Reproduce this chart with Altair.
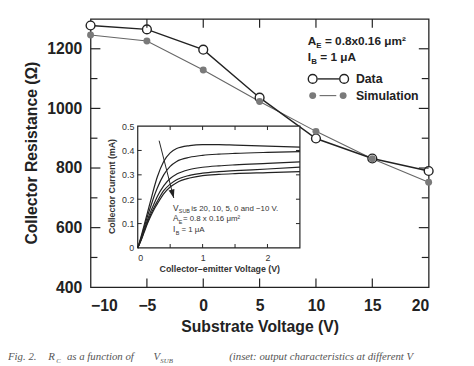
import altair as alt
import pandas as pd

# ---- main data ----
vsub = [-10, -5, 0, 5, 10, 15, 20]
r_data = [1278, 1265, 1197, 1036, 899, 832, 790]
r_sim = [1246, 1226, 1129, 1023, 923, 831, 752]

x_ticks = [-5, 0, 5, 10, 15]
y_major = [600, 800, 1000, 1200]
y_minor = [500, 700, 900, 1100]

# ---- inset data ----
vce = [0, 0.05, 0.1, 0.15, 0.2, 0.25, 0.3, 0.4, 0.5, 0.6, 0.8, 1.0, 1.25, 1.5, 2.0, 2.5]
ic_20 = [0, 0.045, 0.095, 0.145, 0.195, 0.245, 0.29, 0.355, 0.39, 0.408, 0.42, 0.424, 0.424, 0.422, 0.418, 0.414]
ic_10 = [0, 0.04, 0.085, 0.13, 0.17, 0.21, 0.245, 0.30, 0.335, 0.355, 0.372, 0.38, 0.385, 0.388, 0.392, 0.395]
ic_5 = [0, 0.035, 0.075, 0.115, 0.15, 0.18, 0.21, 0.255, 0.285, 0.303, 0.322, 0.331, 0.337, 0.341, 0.347, 0.353]
ic_0 = [0, 0.032, 0.07, 0.105, 0.138, 0.165, 0.19, 0.235, 0.262, 0.28, 0.298, 0.307, 0.313, 0.317, 0.324, 0.332]
ic_m10 = [0, 0.03, 0.065, 0.1, 0.13, 0.157, 0.18, 0.222, 0.25, 0.268, 0.287, 0.297, 0.302, 0.305, 0.309, 0.313]
inset_x_ticks = [0.5, 1.0, 1.5, 2.0]
inset_y_ticks = [0.1, 0.2, 0.3, 0.4]
arrow_x = [0.33, 0.555]
arrow_y = [0.44, 0.205]

W, H = 344, 273
FONT = "Liberation Sans"
INK = "#222"

main_df = pd.DataFrame({"v": vsub, "rd": r_data, "rs": r_sim})
curves = []
for name, arr in [("20", ic_20), ("10", ic_10), ("5", ic_5), ("0", ic_0), ("-10", ic_m10)]:
    for a, b in zip(vce, arr):
        curves.append({"x": a, "y": b, "vs": name})
inset_df = pd.DataFrame(curves)

xs = alt.Scale(domain=[-10, 20], nice=False)
ys = alt.Scale(domain=[400, 1300], nice=False)

xa = alt.Axis(values=[-10, -5, 0, 5, 10, 15, 20], format="d", ticks=False, domain=False, grid=False,
              labelFont=FONT, labelFontSize=16, labelFontWeight="bold", labelColor=INK,
              labelPadding=11, title="Substrate Voltage (V)", titleFont=FONT, titleFontSize=16,
              titleFontWeight="bold", titleColor=INK, titleX=172, titleY=40,
              titleBaseline="middle", titleAlign="center")
ya = alt.Axis(values=[400, 600, 800, 1000, 1200], format="d", ticks=False, domain=False, grid=False,
              labelFont=FONT, labelFontSize=16, labelFontWeight="bold", labelColor=INK,
              labelPadding=9, title="Collector Resistance (Ω)", titleFont=FONT, titleFontSize=16,
              titleFontWeight="bold", titleColor=INK, titleX=-60, titleY=136,
              titleBaseline="middle", titleAlign="center", titleAngle=270)

X = alt.X("v:Q", scale=xs, axis=xa)

data_line = alt.Chart(main_df).mark_line(color=INK, strokeWidth=1.4).encode(
    x=X, y=alt.Y("rd:Q", scale=ys, axis=ya))
sim_line = alt.Chart(main_df).mark_line(color="#666", strokeWidth=1.1).encode(
    x=X, y=alt.Y("rs:Q", scale=ys, axis=ya))
data_pts = alt.Chart(main_df).mark_point(shape="circle", filled=True, fill="white", stroke=INK,
                                         strokeWidth=1.4, size=80, opacity=1).encode(
    x=X, y=alt.Y("rd:Q", scale=ys, axis=ya))
sim_pts = alt.Chart(main_df).mark_circle(color="#7a7a7a", size=50, opacity=1).encode(
    x=X, y=alt.Y("rs:Q", scale=ys, axis=ya))

xt_df = pd.DataFrame({"v": x_ticks})
ymaj_df = pd.DataFrame({"rd": y_major})
ymin_df = pd.DataFrame({"rd": y_minor})

def xtick(y1, y2):
    return alt.Chart(xt_df).mark_rule(color=INK, strokeWidth=1.2).encode(
        x=X, y=alt.value(y1), y2=alt.value(y2))

def ytick(df, x1, x2):
    return alt.Chart(df).mark_rule(color=INK, strokeWidth=1.2).encode(
        y=alt.Y("rd:Q", scale=ys, axis=ya), x=alt.value(x1), x2=alt.value(x2))

main_ticks = [xtick(H, H - 9), xtick(0, 9),
              ytick(ymaj_df, 0, 10), ytick(ymin_df, 0, 7),
              ytick(ymaj_df, W, W - 10), ytick(ymin_df, W, W - 7)]

one = pd.DataFrame({"a": [0]})

def txt(s, x, y, size, bold=False, color=INK, font=FONT, baseline="alphabetic", italic=False):
    kw = dict(text=s, align="left", baseline=baseline, fontSize=size, font=font, color=color,
              fontWeight="bold" if bold else "normal")
    if italic:
        kw["fontStyle"] = "italic"
    return alt.Chart(one).mark_text(**kw).encode(x=alt.value(x), y=alt.value(y))

legend = [
    txt("A", 221, 27, 12, True), txt("E", 229.7, 30, 8, True), txt("= 0.8x0.16 μm²", 238.5, 27, 12, True),
    txt("I", 221, 43, 12, True), txt("B", 224.5, 46, 8, True), txt("= 1 μA", 233.8, 43, 12, True),
    alt.Chart(one).mark_rule(color=INK, strokeWidth=1.4).encode(
        x=alt.value(231), x2=alt.value(253), y=alt.value(61)),
    alt.Chart(one).mark_point(shape="circle", filled=True, fill="white", stroke=INK,
                              strokeWidth=1.4, size=80, opacity=1).encode(x=alt.value(226), y=alt.value(61)),
    alt.Chart(one).mark_point(shape="circle", filled=True, fill="white", stroke=INK,
                              strokeWidth=1.4, size=80, opacity=1).encode(x=alt.value(258), y=alt.value(61)),
    txt("Data", 270, 61, 12.5, True, baseline="middle"),
    alt.Chart(one).mark_rule(color="#666", strokeWidth=1.1).encode(
        x=alt.value(233), x2=alt.value(250), y=alt.value(78)),
    alt.Chart(one).mark_circle(color="#7a7a7a", size=50, opacity=1).encode(x=alt.value(226), y=alt.value(78)),
    alt.Chart(one).mark_circle(color="#7a7a7a", size=50, opacity=1).encode(x=alt.value(257), y=alt.value(78)),
    txt("Simulation", 270, 78, 12.5, True, baseline="middle"),
]

CAP = "Liberation Serif"
CY = 347
caption = [
    txt("Fig. 2.", -84, CY, 11, color="#555", font=CAP, italic=True),
    txt("R", -43, CY, 11, color="#555", font=CAP, italic=True),
    txt("C", -35, CY + 3, 7, color="#555", font=CAP, italic=True),
    txt("as a function of", -24, CY, 11, color="#555", font=CAP, italic=True),
    txt("V", 64, CY, 11, color="#555", font=CAP, italic=True),
    txt("SUB", 71, CY + 3, 7, color="#555", font=CAP, italic=True),
    txt("(inset: output characteristics at different V", 141, CY, 11, color="#555", font=CAP, italic=True),
]

main = alt.layer(sim_line, data_line, data_pts, sim_pts, *main_ticks, *legend, *caption)

# ---- inset ----
IX0, IX1, IY0, IY1 = 48, 213, 233, 109
ixs = alt.Scale(domain=[0, 2.5], range=[IX0, IX1], nice=False)
iys = alt.Scale(domain=[0, 0.5], range=[IY0, IY1], nice=False)
ixa = alt.Axis(orient="bottom", offset=IY0 - H, values=[0, 1, 2], ticks=False, domain=False, grid=False,
               labelFont=FONT, labelFontSize=9, labelColor="#333", labelPadding=6,
               title="Collector–emitter Voltage (V)", titleFont=FONT, titleFontSize=9,
               titleFontWeight="bold", titleColor="#333", titleX=131, titleY=21,
               titleBaseline="middle", titleAlign="center")
iya = alt.Axis(orient="left", offset=-IX0, values=[0, 0.1, 0.2, 0.3, 0.4, 0.5], format="~g",
               ticks=False, domain=False, grid=False,
               labelFont=FONT, labelFontSize=9, labelColor="#333", labelPadding=4,
               title="Collector Current (mA)", titleFont=FONT, titleFontSize=9,
               titleFontWeight="bold", titleColor="#333", titleX=-27, titleY=170,
               titleBaseline="middle", titleAlign="center", titleAngle=270)
IX = alt.X("x:Q", scale=ixs, axis=ixa)
IY = alt.Y("y:Q", scale=iys, axis=iya)

box = alt.Chart(pd.DataFrame({"x": [0], "x2": [2.5], "y": [0], "y2": [0.5]})).mark_rect(
    fill="white", stroke=INK, strokeWidth=1.2).encode(x=IX, x2="x2:Q", y=IY, y2="y2:Q")
inset_lines = alt.Chart(inset_df).mark_line(color=INK, strokeWidth=1.2, interpolate="monotone").encode(
    x=IX, y=IY, detail="vs:N")
arrow_df = pd.DataFrame({"x": arrow_x, "y": arrow_y})
arrow = alt.Chart(arrow_df).mark_line(color=INK, strokeWidth=1).encode(x=IX, y=IY)
arrow_head = alt.Chart(arrow_df.iloc[[1]]).mark_point(
    shape="M0,0 L-0.35,-1 L0.35,-1 Z", filled=True, color=INK, opacity=1, size=300, angle=345).encode(x=IX, y=IY)

ixt = pd.DataFrame({"x": inset_x_ticks})
iyt = pd.DataFrame({"y": inset_y_ticks})
inset_ticks = [
    alt.Chart(ixt).mark_rule(color=INK, strokeWidth=1).encode(x=IX, y=alt.value(IY0), y2=alt.value(IY0 - 4)),
    alt.Chart(ixt).mark_rule(color=INK, strokeWidth=1).encode(x=IX, y=alt.value(IY1), y2=alt.value(IY1 + 4)),
    alt.Chart(iyt).mark_rule(color=INK, strokeWidth=1).encode(y=IY, x=alt.value(IX0), x2=alt.value(IX0 + 4)),
    alt.Chart(iyt).mark_rule(color=INK, strokeWidth=1).encode(y=IY, x=alt.value(IX1), x2=alt.value(IX1 - 4)),
]

ann = [
    txt("V", 84, 195, 8.5, color="#333"), txt("SUB", 89.8, 197.5, 5.5, color="#333"),
    txt("is 20, 10, 5, 0 and −10 V.", 102.5, 195, 8, color="#333"),
    txt("A", 84, 206, 8.5, color="#333"), txt("E", 89.8, 208.5, 5.5, color="#333"),
    txt("= 0.8 x 0.16 μm²", 94, 206, 8, color="#333"),
    txt("I", 84, 217, 8.5, color="#333"), txt("B", 86.8, 219.5, 5.5, color="#333"),
    txt("= 1 μA", 92.5, 217, 8, color="#333"),
]

inset = alt.layer(box, inset_lines, *inset_ticks, arrow, arrow_head, *ann)

chart = alt.layer(main, inset).resolve_scale(x="independent", y="independent").properties(
    width=W, height=H, autosize="none",
    padding={"left": 84, "top": 8, "right": 38, "bottom": 80},
    background="white",
).configure_view(stroke=INK, strokeWidth=1.3)

chart.save("out.html", embed_options={"renderer": "svg", "actions": False})
